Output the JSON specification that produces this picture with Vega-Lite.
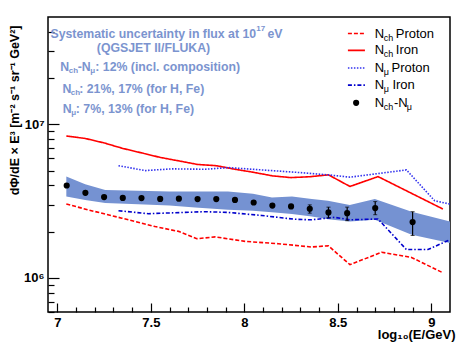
{
  "$schema": "https://vega.github.io/schema/vega-lite/v6.json",
  "width": 402,
  "height": 295,
  "autosize": "none",
  "padding": {"left": 48, "top": 17, "right": 24, "bottom": 35},
  "background": "white",
  "config": {"view": {"stroke": "black", "strokeWidth": 1.5}, "font": "Liberation Sans"},
  "datasets": {
    "band": [
      {"x": 7.048, "lo": 3390000, "hi": 4570000},
      {"x": 7.149, "lo": 3220000, "hi": 4080000},
      {"x": 7.256, "lo": 3070000, "hi": 3740000},
      {"x": 7.432, "lo": 3020000, "hi": 3690000},
      {"x": 7.6, "lo": 2960000, "hi": 3660000},
      {"x": 7.737, "lo": 2870000, "hi": 3650000},
      {"x": 7.913, "lo": 2780000, "hi": 3650000},
      {"x": 8.046, "lo": 2740000, "hi": 3530000},
      {"x": 8.148, "lo": 2680000, "hi": 3340000},
      {"x": 8.255, "lo": 2610000, "hi": 3390000},
      {"x": 8.361, "lo": 2510000, "hi": 3270000},
      {"x": 8.447, "lo": 2410000, "hi": 3180000},
      {"x": 8.564, "lo": 2330000, "hi": 2990000},
      {"x": 8.698, "lo": 2390000, "hi": 3270000},
      {"x": 8.895, "lo": 1910000, "hi": 2700000},
      {"x": 9.1, "lo": 1690000, "hi": 2330000}
    ],
    "points": [
      {"x": 7.05, "y": 4000000},
      {"x": 7.15, "y": 3580000},
      {"x": 7.25, "y": 3360000},
      {"x": 7.35, "y": 3320000},
      {"x": 7.45, "y": 3310000},
      {"x": 7.55, "y": 3270000},
      {"x": 7.65, "y": 3280000},
      {"x": 7.75, "y": 3260000},
      {"x": 7.85, "y": 3260000},
      {"x": 7.95, "y": 3220000},
      {"x": 8.05, "y": 3100000},
      {"x": 8.15, "y": 2960000},
      {"x": 8.25, "y": 2920000},
      {"x": 8.35, "y": 2820000, "lo": 2640000, "hi": 2990000},
      {"x": 8.45, "y": 2670000, "lo": 2460000, "hi": 2890000},
      {"x": 8.55, "y": 2640000, "lo": 2360000, "hi": 2890000},
      {"x": 8.7, "y": 2850000, "lo": 2580000, "hi": 3140000},
      {"x": 8.9, "y": 2310000, "lo": 1890000, "hi": 2700000}
    ],
    "lines": [
      {"series": "Nch Iron", "x": 7.048, "y": 8400000},
      {"series": "Nch Iron", "x": 7.15, "y": 8090000},
      {"series": "Nch Iron", "x": 7.25, "y": 7570000},
      {"series": "Nch Iron", "x": 7.35, "y": 6970000},
      {"series": "Nch Iron", "x": 7.45, "y": 6520000},
      {"series": "Nch Iron", "x": 7.55, "y": 6090000},
      {"series": "Nch Iron", "x": 7.65, "y": 5780000},
      {"series": "Nch Iron", "x": 7.75, "y": 5480000},
      {"series": "Nch Iron", "x": 7.85, "y": 5380000},
      {"series": "Nch Iron", "x": 7.95, "y": 5100000},
      {"series": "Nch Iron", "x": 8.05, "y": 4870000},
      {"series": "Nch Iron", "x": 8.15, "y": 4620000},
      {"series": "Nch Iron", "x": 8.25, "y": 4500000},
      {"series": "Nch Iron", "x": 8.35, "y": 4560000},
      {"series": "Nch Iron", "x": 8.45, "y": 4690000},
      {"series": "Nch Iron", "x": 8.565, "y": 3940000},
      {"series": "Nch Iron", "x": 8.715, "y": 4570000},
      {"series": "Nch Iron", "x": 9.062, "y": 2810000},
      {"series": "Nch Proton", "x": 7.048, "y": 3030000},
      {"series": "Nch Proton", "x": 7.167, "y": 2770000},
      {"series": "Nch Proton", "x": 7.345, "y": 2450000},
      {"series": "Nch Proton", "x": 7.523, "y": 2160000},
      {"series": "Nch Proton", "x": 7.648, "y": 2010000},
      {"series": "Nch Proton", "x": 7.746, "y": 1800000},
      {"series": "Nch Proton", "x": 7.844, "y": 1850000},
      {"series": "Nch Proton", "x": 8.004, "y": 1730000},
      {"series": "Nch Proton", "x": 8.182, "y": 1670000},
      {"series": "Nch Proton", "x": 8.36, "y": 1590000},
      {"series": "Nch Proton", "x": 8.449, "y": 1620000},
      {"series": "Nch Proton", "x": 8.565, "y": 1220000},
      {"series": "Nch Proton", "x": 8.734, "y": 1470000},
      {"series": "Nch Proton", "x": 8.894, "y": 1360000},
      {"series": "Nch Proton", "x": 9.062, "y": 1080000},
      {"series": "Nmu Proton", "x": 7.327, "y": 5380000},
      {"series": "Nmu Proton", "x": 7.47, "y": 5000000},
      {"series": "Nmu Proton", "x": 7.612, "y": 5130000},
      {"series": "Nmu Proton", "x": 7.79, "y": 5100000},
      {"series": "Nmu Proton", "x": 7.915, "y": 5230000},
      {"series": "Nmu Proton", "x": 8.093, "y": 5050000},
      {"series": "Nmu Proton", "x": 8.27, "y": 4880000},
      {"series": "Nmu Proton", "x": 8.449, "y": 4690000},
      {"series": "Nmu Proton", "x": 8.565, "y": 4530000},
      {"series": "Nmu Proton", "x": 8.867, "y": 5050000},
      {"series": "Nmu Proton", "x": 9.018, "y": 3180000},
      {"series": "Nmu Proton", "x": 9.098, "y": 3030000},
      {"series": "Nmu Iron", "x": 7.327, "y": 2740000},
      {"series": "Nmu Iron", "x": 7.487, "y": 2620000},
      {"series": "Nmu Iron", "x": 7.79, "y": 2700000},
      {"series": "Nmu Iron", "x": 7.915, "y": 2670000},
      {"series": "Nmu Iron", "x": 8.093, "y": 2550000},
      {"series": "Nmu Iron", "x": 8.27, "y": 2410000},
      {"series": "Nmu Iron", "x": 8.36, "y": 2390000},
      {"series": "Nmu Iron", "x": 8.484, "y": 2480000},
      {"series": "Nmu Iron", "x": 8.565, "y": 2390000},
      {"series": "Nmu Iron", "x": 8.715, "y": 2420000},
      {"series": "Nmu Iron", "x": 8.867, "y": 1530000},
      {"series": "Nmu Iron", "x": 8.982, "y": 1530000},
      {"series": "Nmu Iron", "x": 9.098, "y": 1770000}
    ],
    "legendLines": [
      {"series": "Nch Proton", "x": 8.554, "y": 39000000},
      {"series": "Nch Proton", "x": 8.645, "y": 39000000},
      {"series": "Nch Iron", "x": 8.554, "y": 30300000},
      {"series": "Nch Iron", "x": 8.645, "y": 30300000},
      {"series": "Nmu Proton", "x": 8.554, "y": 23300000},
      {"series": "Nmu Proton", "x": 8.645, "y": 23300000},
      {"series": "Nmu Iron", "x": 8.554, "y": 18000000},
      {"series": "Nmu Iron", "x": 8.645, "y": 18000000}
    ],
    "legendDot": [
      {"x": 8.598, "y": 13800000}
    ],
    "texts": [
      {"g": "note", "k": "main", "x": 6.963, "y": 38900000, "t": "Systematic uncertainty in flux at"},
      {"g": "note", "k": "main", "x": 7.99, "y": 38900000, "t": "10"},
      {"g": "note", "k": "sup", "x": 8.064, "y": 38900000, "t": "17"},
      {"g": "note", "k": "main", "x": 8.124, "y": 38900000, "t": "eV"},
      {"g": "note", "k": "main", "x": 7.211, "y": 31500000, "t": "(QGSJET II/FLUKA)"},
      {"g": "note", "k": "main", "x": 7.016, "y": 23500000, "t": "N"},
      {"g": "note", "k": "sub", "x": 7.061, "y": 23500000, "t": "ch"},
      {"g": "note", "k": "main", "x": 7.109, "y": 23500000, "t": "-N"},
      {"g": "note", "k": "sub", "x": 7.176, "y": 23500000, "t": "μ"},
      {"g": "note", "k": "main", "x": 7.203, "y": 23500000, "t": ": 12% (incl. composition)"},
      {"g": "note", "k": "main", "x": 7.027, "y": 17100000, "t": "N"},
      {"g": "note", "k": "sub", "x": 7.072, "y": 17100000, "t": "ch"},
      {"g": "note", "k": "main", "x": 7.117, "y": 17100000, "t": ": 21%, 17% (for H, Fe)"},
      {"g": "note", "k": "main", "x": 7.029, "y": 12600000, "t": "N"},
      {"g": "note", "k": "sub", "x": 7.075, "y": 12600000, "t": "μ"},
      {"g": "note", "k": "main", "x": 7.099, "y": 12600000, "t": ": 7%, 13% (for H, Fe)"},
      {"g": "legend", "k": "main", "x": 8.698, "y": 39000000, "t": "N"},
      {"g": "legend", "k": "sub", "x": 8.746, "y": 39000000, "t": "ch"},
      {"g": "legend", "k": "main", "x": 8.81, "y": 39000000, "t": "Proton"},
      {"g": "legend", "k": "main", "x": 8.698, "y": 30300000, "t": "N"},
      {"g": "legend", "k": "sub", "x": 8.746, "y": 30300000, "t": "ch"},
      {"g": "legend", "k": "main", "x": 8.81, "y": 30300000, "t": "Iron"},
      {"g": "legend", "k": "main", "x": 8.698, "y": 23300000, "t": "N"},
      {"g": "legend", "k": "sub", "x": 8.746, "y": 23300000, "t": "μ"},
      {"g": "legend", "k": "main", "x": 8.787, "y": 23300000, "t": "Proton"},
      {"g": "legend", "k": "main", "x": 8.698, "y": 18000000, "t": "N"},
      {"g": "legend", "k": "sub", "x": 8.746, "y": 18000000, "t": "μ"},
      {"g": "legend", "k": "main", "x": 8.792, "y": 18000000, "t": "Iron"},
      {"g": "legend", "k": "main", "x": 8.698, "y": 13800000, "t": "N"},
      {"g": "legend", "k": "sub", "x": 8.746, "y": 13800000, "t": "ch"},
      {"g": "legend", "k": "main", "x": 8.8, "y": 13800000, "t": "-N"},
      {"g": "legend", "k": "sub", "x": 8.869, "y": 13800000, "t": "μ"}
    ]
  },
  "encoding": {
    "x": {
      "field": "x", "type": "quantitative",
      "scale": {"domain": [6.95, 9.1], "nice": false, "zero": false},
      "axis": {
        "values": [7, 7.1, 7.2, 7.3, 7.4, 7.5, 7.6, 7.7, 7.8, 7.9, 8, 8.1, 8.2, 8.3, 8.4, 8.5, 8.6, 8.7, 8.8, 8.9, 9],
        "labelExpr": "indexof([7, 7.5, 8, 8.5, 9], datum.value) >= 0 ? toString(datum.value) : ''",
        "tickSize": {"condition": {"test": "indexof([7, 7.5, 8, 8.5, 9], datum.value) >= 0", "value": -9}, "value": -5},
        "tickColor": "black", "tickWidth": 1.2,
        "domain": false, "grid": false,
        "labelFont": "Liberation Sans", "labelFontWeight": "bold", "labelFontSize": 13, "labelColor": "black",
        "labelPadding": 13, "labelFlush": false, "labelOverlap": false, "labelBound": false,
        "title": "log₁₀(E/GeV)",
        "titleFont": "Liberation Sans", "titleFontWeight": "bold", "titleFontSize": 13, "titleColor": "black",
        "titleX": 407, "titleY": 22, "titleAlign": "right", "titleBaseline": "middle", "titleAnchor": "end"
      }
    },
    "y": {
      "field": "y", "type": "quantitative",
      "scale": {"type": "log", "domain": [600000, 50000000], "nice": false},
      "axis": {
        "values": [600000, 700000, 800000, 900000, 1000000, 2000000, 3000000, 4000000, 5000000, 6000000, 7000000, 8000000, 9000000, 10000000, 20000000, 30000000, 40000000],
        "labelExpr": "datum.value == 1000000 ? '10⁶' : datum.value == 10000000 ? '10⁷' : ''",
        "tickSize": {"condition": {"test": "datum.value == 1000000 || datum.value == 10000000", "value": -11}, "value": -6},
        "tickColor": "black", "tickWidth": 1.2,
        "domain": false, "grid": false,
        "labelFont": "Liberation Sans", "labelFontWeight": "bold", "labelFontSize": 13, "labelColor": "black",
        "labelPadding": 15, "labelFlush": false, "labelOverlap": false, "labelBound": false, "labelBaseline": "middle",
        "title": "dΦ/dE × E³ [m⁻² s⁻¹ sr⁻¹ GeV²]",
        "titleFont": "Liberation Sans", "titleFontWeight": "bold", "titleFontSize": 12.5, "titleColor": "black",
        "titleAngle": 270, "titleX": -34, "titleY": 8, "titleAlign": "right", "titleBaseline": "middle", "titleAnchor": "end"
      }
    }
  },
  "layer": [
    {
      "data": {"name": "band"},
      "mark": {"type": "area", "color": "#7592d2", "opacity": 1, "clip": true},
      "encoding": {
        "y": {"field": "lo", "type": "quantitative", "scale": {"type": "log", "domain": [600000, 50000000], "nice": false}},
        "y2": {"field": "hi"}
      }
    },
    {
      "data": {"name": "lines"},
      "mark": {"type": "line", "strokeWidth": 1.6, "clip": true},
      "encoding": {
        "color": {"field": "series", "type": "nominal", "legend": null,
          "scale": {"domain": ["Nch Proton", "Nch Iron", "Nmu Proton", "Nmu Iron"], "range": ["#ff0000", "#ff0000", "#3333ee", "#0000cc"]}},
        "strokeDash": {"field": "series", "type": "nominal", "legend": null,
          "scale": {"domain": ["Nch Proton", "Nch Iron", "Nmu Proton", "Nmu Iron"], "range": [[4, 2], [1, 0], [1.5, 1.5], [4, 2, 1.5, 2]]}},
        "order": {"field": "x", "type": "quantitative"}
      }
    },
    {
      "data": {"name": "points"},
      "transform": [{"filter": "isValid(datum.lo)"}],
      "mark": {"type": "errorbar", "color": "black", "ticks": {"size": 4, "color": "black"}, "rule": {"strokeWidth": 1.2}},
      "encoding": {
        "y": {"field": "lo", "type": "quantitative", "scale": {"type": "log", "domain": [600000, 50000000], "nice": false}},
        "y2": {"field": "hi"}
      }
    },
    {
      "data": {"name": "points"},
      "mark": {"type": "circle", "size": 38, "color": "black", "opacity": 1}
    },
    {
      "data": {"name": "legendLines"},
      "mark": {"type": "line", "strokeWidth": 1.6},
      "encoding": {
        "color": {"field": "series", "type": "nominal", "legend": null,
          "scale": {"domain": ["Nch Proton", "Nch Iron", "Nmu Proton", "Nmu Iron"], "range": ["#ff0000", "#ff0000", "#3333ee", "#0000cc"]}},
        "strokeDash": {"field": "series", "type": "nominal", "legend": null,
          "scale": {"domain": ["Nch Proton", "Nch Iron", "Nmu Proton", "Nmu Iron"], "range": [[4, 2], [1, 0], [1.5, 1.5], [4, 2, 1.5, 2]]}}
      }
    },
    {
      "data": {"name": "legendDot"},
      "mark": {"type": "circle", "size": 38, "color": "black", "opacity": 1}
    },
    {
      "data": {"name": "texts"},
      "transform": [{"filter": "datum.g == 'legend' && datum.k == 'main'"}],
      "mark": {"type": "text", "align": "left", "baseline": "middle", "font": "Liberation Sans", "fontSize": 13, "color": "black"},
      "encoding": {"text": {"field": "t"}}
    },
    {
      "data": {"name": "texts"},
      "transform": [{"filter": "datum.g == 'legend' && datum.k == 'sub'"}],
      "mark": {"type": "text", "align": "left", "baseline": "middle", "font": "Liberation Sans", "fontSize": 9, "dy": 4, "color": "black"},
      "encoding": {"text": {"field": "t"}}
    },
    {
      "data": {"name": "texts"},
      "transform": [{"filter": "datum.g == 'note' && datum.k == 'main'"}],
      "mark": {"type": "text", "align": "left", "baseline": "middle", "font": "Liberation Sans", "fontWeight": "bold", "fontSize": 12.3, "color": "#7b94cf"},
      "encoding": {"text": {"field": "t"}}
    },
    {
      "data": {"name": "texts"},
      "transform": [{"filter": "datum.g == 'note' && datum.k == 'sub'"}],
      "mark": {"type": "text", "align": "left", "baseline": "middle", "font": "Liberation Sans", "fontWeight": "bold", "fontSize": 8, "dy": 4, "color": "#7b94cf"},
      "encoding": {"text": {"field": "t"}}
    },
    {
      "data": {"name": "texts"},
      "transform": [{"filter": "datum.g == 'note' && datum.k == 'sup'"}],
      "mark": {"type": "text", "align": "left", "baseline": "middle", "font": "Liberation Sans", "fontWeight": "bold", "fontSize": 8, "dy": -5, "color": "#7b94cf"},
      "encoding": {"text": {"field": "t"}}
    }
  ]
}
